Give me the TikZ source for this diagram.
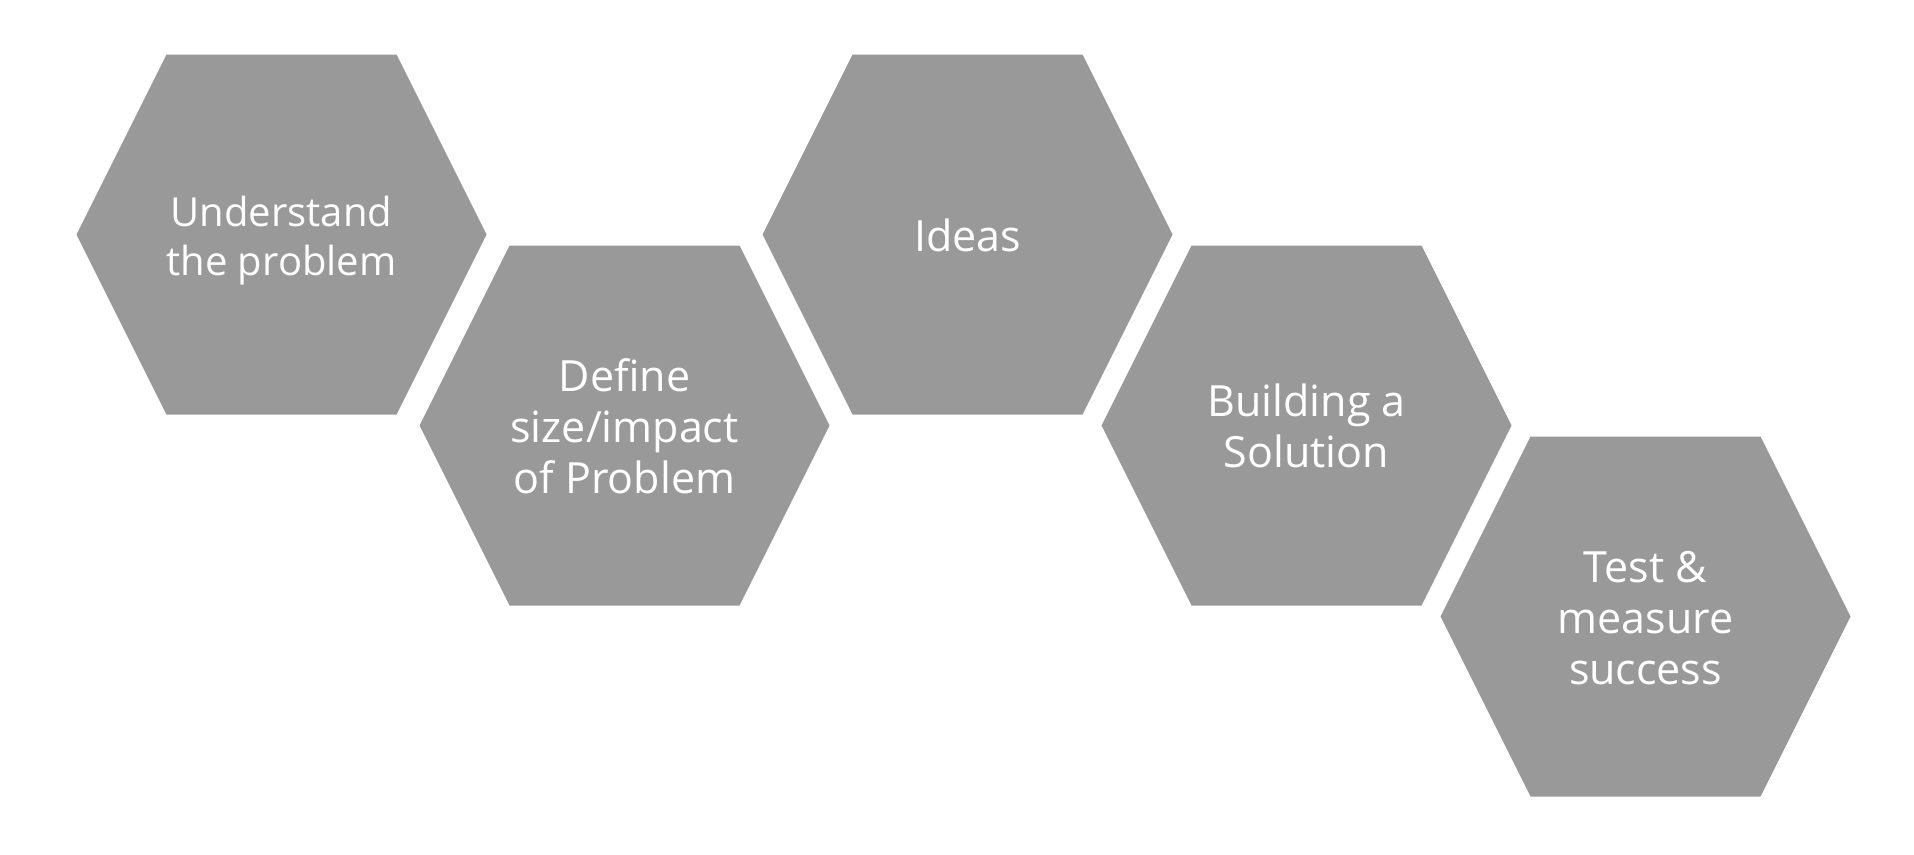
\documentclass[tikz,border=0pt]{standalone}
\usepackage{fontspec}
\setmainfont{Open Sans}
\begin{document}
\begin{tikzpicture}[x=1pt,y=-1pt,
  hexfill/.style={fill=hexgray,draw=none},
  hexlabel/.style={text=white,align=center,inner sep=0pt}]
\definecolor{hexgray}{RGB}{153,153,153}
\useasboundingbox (0,0) rectangle (1914,854);
\foreach \cx/\cy/\nm/\txt/\dy/\fs/\ls in {
  281.5/234.5/h1/{Understand\\the problem}/6/40/49,
  624.5/425.5/h2/{Define\\size/impact\\of Problem}/1/43/51,
  967.5/234.5/h3/{Ideas}/1/43/51,
  1306.5/425.5/h4/{Building a\\Solution}/0/43/51,
  1645.5/616.5/h5/{Test \&\\measure\\success}/2/43/51}{
  \fill[hexfill] (\cx-205,\cy) -- (\cx-115,\cy-180) -- (\cx+115,\cy-180)
     -- (\cx+205,\cy) -- (\cx+115,\cy+180) -- (\cx-115,\cy+180) -- cycle;
  \node[hexlabel,font=\fontsize{\fs}{\ls}\selectfont] (\nm) at (\cx,\cy+\dy) {\txt};
}
\end{tikzpicture}
\end{document}
